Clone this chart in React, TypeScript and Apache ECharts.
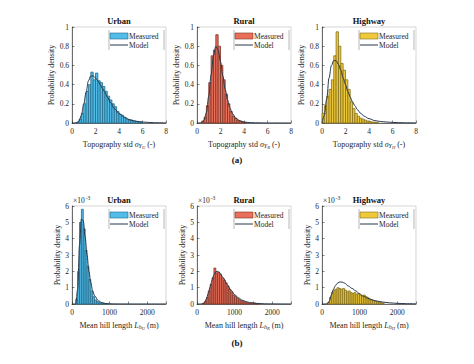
import React, { useEffect, useRef } from "react";
import * as echarts from "echarts";

// ---------- data ----------
// Top row: histogram of topography std (bin width 0.2), bin centres
const stdBinCenters = [0.1, 0.3, 0.5, 0.7, 0.9, 1.1, 1.3, 1.5, 1.7, 1.9, 2.1, 2.3, 2.5, 2.7, 2.9, 3.1, 3.3, 3.5, 3.7, 3.9, 4.1, 4.3, 4.5, 4.7, 4.9, 5.1, 5.3, 5.5, 5.7, 5.9];
const stdUrbanMeasured = [0, 0, 0.01, 0.04, 0.10, 0.20, 0.33, 0.40, 0.53, 0.45, 0.52, 0.44, 0.42, 0.38, 0.33, 0.28, 0.24, 0.20, 0.17, 0.12, 0.09, 0.08, 0.06, 0.04, 0.035, 0.03, 0.02, 0.015, 0.01, 0.008];
const stdRuralMeasured = [0, 0, 0.02, 0.06, 0.18, 0.42, 0.70, 0.76, 0.92, 0.80, 0.60, 0.45, 0.30, 0.20, 0.12, 0.07, 0.05, 0.03, 0.02, 0.01, 0.005, 0, 0, 0, 0, 0, 0, 0, 0, 0];
const stdHighwayMeasured = [0.10, 0.18, 0.28, 0.35, 0.45, 0.70, 0.95, 0.80, 0.62, 0.55, 0.45, 0.35, 0.22, 0.15, 0.10, 0.07, 0.05, 0.04, 0.03, 0.02, 0.015, 0.01, 0.008, 0.005, 0, 0, 0, 0, 0, 0];

const stdModelX = [0, 0.2, 0.4, 0.6, 0.8, 1.0, 1.2, 1.4, 1.6, 1.8, 2.0, 2.2, 2.4, 2.6, 2.8, 3.0, 3.3, 3.6, 4.0, 4.5, 5.0, 5.5, 6.0, 7.0, 8.0];
const stdUrbanModel = [0, 0, 0.003, 0.02, 0.08, 0.20, 0.32, 0.44, 0.49, 0.49, 0.47, 0.44, 0.40, 0.36, 0.32, 0.27, 0.21, 0.15, 0.10, 0.055, 0.03, 0.018, 0.01, 0.003, 0.001];
const stdRuralModel = [0, 0, 0.005, 0.03, 0.11, 0.28, 0.50, 0.70, 0.80, 0.76, 0.64, 0.49, 0.35, 0.24, 0.16, 0.10, 0.05, 0.025, 0.01, 0.004, 0.002, 0.001, 0, 0, 0];
const stdHighwayModel = [0, 0.08, 0.25, 0.47, 0.60, 0.65, 0.65, 0.61, 0.55, 0.47, 0.40, 0.33, 0.27, 0.22, 0.18, 0.14, 0.10, 0.07, 0.045, 0.025, 0.015, 0.01, 0.006, 0.002, 0.001];

// Bottom row: histogram of mean hill length (bin width 50 m), density in units of 1e-3
const lenBinCenters = [125, 175, 225, 275, 325, 375, 425, 475, 525, 575, 625, 675, 725, 775, 825, 875, 925, 975, 1025, 1075, 1125, 1175, 1225, 1275, 1325, 1375, 1425, 1475, 1525, 1575, 1625];
const lenUrbanMeasured = [0.3, 2.0, 5.0, 5.8, 4.6, 3.3, 2.3, 1.5, 0.8, 0.45, 0.25, 0.15, 0.1, 0.06, 0.04, 0.02, 0.01, 0, 0, 0, 0, 0, 0, 0, 0, 0, 0, 0, 0, 0, 0];
const lenRuralMeasured = [0, 0.05, 0.15, 0.4, 0.8, 1.2, 1.6, 2.2, 1.9, 1.95, 1.8, 1.6, 1.45, 1.3, 1.1, 0.9, 0.72, 0.55, 0.45, 0.35, 0.27, 0.2, 0.15, 0.11, 0.08, 0.06, 0.05, 0.04, 0.06, 0.02, 0.01];
const lenHighwayMeasured = [0, 0.1, 0.4, 0.7, 0.85, 0.9, 1.0, 0.95, 0.9, 0.95, 0.85, 0.75, 0.8, 0.7, 0.65, 0.7, 0.6, 0.65, 0.55, 0.5, 0.55, 0.45, 0.38, 0.3, 0.25, 0.2, 0.16, 0.13, 0.1, 0.08, 0.06];

const lenModelX = [0, 100, 150, 200, 250, 300, 350, 400, 450, 500, 550, 600, 700, 800, 900, 1000, 1100, 1200, 1300, 1400, 1600, 1800, 2000, 2250, 2500];
const lenUrbanModel = [0, 0, 0.9, 3.6, 5.2, 5.1, 4.1, 3.0, 2.0, 1.3, 0.8, 0.5, 0.2, 0.08, 0.03, 0.015, 0.008, 0.004, 0.002, 0.001, 0, 0, 0, 0, 0];
const lenRuralModel = [0, 0, 0.01, 0.08, 0.3, 0.65, 1.05, 1.45, 1.8, 1.98, 2.0, 1.92, 1.6, 1.2, 0.85, 0.58, 0.38, 0.24, 0.15, 0.09, 0.035, 0.013, 0.005, 0.002, 0];
const lenHighwayModel = [0, 0, 0.02, 0.2, 0.55, 0.88, 1.1, 1.25, 1.33, 1.35, 1.33, 1.28, 1.1, 0.95, 0.8, 0.62, 0.48, 0.37, 0.28, 0.21, 0.12, 0.07, 0.04, 0.02, 0.01];

const regions = ["Urban", "Rural", "Highway"];
const regionLetters = ["U", "R", "H"];

// ---------- styling ----------
const FONT = "'Liberation Serif', 'DejaVu Serif', serif";
const TXT = "#262626";
const MODEL_COLOR = "#27384a";
const FILLS = ["#52bde8", "#ea6f5a", "#efc93c"];
const EDGES = ["#236a8a", "#7e3326", "#85701c"];
const LEFTS = [72, 197, 322];
const PW = 94;
const TOP_ROW = { top: 27, height: 96 };
const BOT_ROW = { top: 206, height: 98 };

type Panel = {
  row: number; col: number; centers: number[]; values: number[]; binW: number;
  mx: number[]; my: number[];
};

const panels: Panel[] = [
  { row: 0, col: 0, centers: stdBinCenters, values: stdUrbanMeasured, binW: 0.2, mx: stdModelX, my: stdUrbanModel },
  { row: 0, col: 1, centers: stdBinCenters, values: stdRuralMeasured, binW: 0.2, mx: stdModelX, my: stdRuralModel },
  { row: 0, col: 2, centers: stdBinCenters, values: stdHighwayMeasured, binW: 0.2, mx: stdModelX, my: stdHighwayModel },
  { row: 1, col: 0, centers: lenBinCenters, values: lenUrbanMeasured, binW: 50, mx: lenModelX, my: lenUrbanModel },
  { row: 1, col: 1, centers: lenBinCenters, values: lenRuralMeasured, binW: 50, mx: lenModelX, my: lenRuralModel },
  { row: 1, col: 2, centers: lenBinCenters, values: lenHighwayMeasured, binW: 50, mx: lenModelX, my: lenHighwayModel },
];

const richName = {
  n: { fontFamily: FONT, fontSize: 8, color: TXT },
  i: { fontFamily: FONT, fontSize: 8, color: TXT, fontStyle: "italic" },
  s: { fontFamily: FONT, fontSize: 6, color: TXT, fontStyle: "italic", padding: [4, 0, 0, 0] },
  ss: { fontFamily: FONT, fontSize: 4.5, color: TXT, fontStyle: "italic", padding: [7, 0, 0, 0] },
};

function buildOption() {
  const grid: any[] = [];
  const xAxis: any[] = [];
  const yAxis: any[] = [];
  const series: any[] = [];
  const graphic: any[] = [];

  panels.forEach((p, i) => {
    const rowCfg = p.row === 0 ? TOP_ROW : BOT_ROW;
    const left = LEFTS[p.col];
    grid.push({
      left, top: rowCfg.top, width: PW, height: rowCfg.height,
      show: true, borderColor: "#c4c4c4", borderWidth: 0.7, backgroundColor: "transparent",
      outerBoundsMode: "none",
    });
    const letter = regionLetters[p.col];
    const xName = p.row === 0
      ? `{n|Topography std }{i|σ}{s|Y}{ss|${letter}}{n| (-)}`
      : `{n|Mean hill length }{i|L}{s|h}{ss|${letter}}{n| (m)}`;
    xAxis.push({
      gridIndex: i, type: "value",
      min: 0, max: p.row === 0 ? 8 : 2500, interval: p.row === 0 ? 2 : 500,
      axisLine: { show: true, lineStyle: { color: "#333", width: 0.7 } },
      axisTick: { show: true, inside: true, length: 2.5, lineStyle: { color: "#333", width: 0.6 } },
      axisLabel: {
        fontFamily: FONT, fontSize: 7.5, color: TXT, margin: 4,
        formatter: (v: number) => (p.row === 1 && v % 1000 !== 0 ? "" : String(v)),
      },
      splitLine: { show: false },
      name: xName, nameLocation: "middle", nameGap: 15,
      nameTextStyle: { rich: richName },
    });
    yAxis.push({
      gridIndex: i, type: "value",
      min: 0, max: p.row === 0 ? 1 : 6, interval: p.row === 0 ? 0.2 : 1,
      axisLine: { show: true, lineStyle: { color: "#333", width: 0.7 } },
      axisTick: { show: true, inside: true, length: 2.5, lineStyle: { color: "#333", width: 0.6 } },
      axisLabel: { fontFamily: FONT, fontSize: 7.5, color: TXT, margin: 3 },
      splitLine: { show: false },
      name: "Probability density", nameLocation: "middle", nameRotate: 90,
      nameGap: p.row === 0 ? 16 : 11,
      nameTextStyle: { fontFamily: FONT, fontSize: 8, color: TXT },
    });

    const w = p.binW;
    const fill = FILLS[p.col];
    const edge = EDGES[p.col];
    series.push({
      type: "custom", name: "Measured", xAxisIndex: i, yAxisIndex: i,
      data: p.centers.map((c, j) => [c, p.values[j]]).filter((d) => d[1] > 0),
      renderItem: (_params: any, api: any) => {
        const c = api.value(0);
        const v = api.value(1);
        const p0 = api.coord([c - w / 2, v]);
        const p1 = api.coord([c + w / 2, 0]);
        return {
          type: "rect",
          shape: { x: p0[0], y: p0[1], width: p1[0] - p0[0], height: p1[1] - p0[1] },
          style: { fill, stroke: edge, lineWidth: 0.8 },
        };
      },
      z: 2,
    });
    series.push({
      type: "line", name: "Model", xAxisIndex: i, yAxisIndex: i,
      data: p.mx.map((x, j) => [x, p.my[j]]),
      showSymbol: false, smooth: 0.35, smoothMonotone: "x",
      lineStyle: { color: MODEL_COLOR, width: 1 }, z: 3,
    });

    // title
    const cx = left + PW / 2;
    graphic.push({
      type: "text", x: cx, y: rowCfg.top - 6,
      style: { text: regions[p.col], font: `bold 8.5px ${FONT}`, fill: "#111", align: "center", verticalAlign: "middle" },
    });
    // legend
    const R = left + PW;
    const T = rowCfg.top;
    graphic.push(
      { type: "line", shape: { x1: R - 57, y1: T + 3, x2: R - 57, y2: T + 23 }, style: { stroke: "#999", lineWidth: 0.7 } },
      { type: "line", shape: { x1: R - 2, y1: T + 3, x2: R - 2, y2: T + 23 }, style: { stroke: "#999", lineWidth: 0.7 } },
      { type: "rect", shape: { x: R - 56, y: T + 6, width: 18, height: 6 }, style: { fill, stroke: edge, lineWidth: 0.6 } },
      { type: "text", x: R - 37, y: T + 9, style: { text: "Measured", font: `7.5px ${FONT}`, fill: TXT, align: "left", verticalAlign: "middle" } },
      { type: "line", shape: { x1: R - 56, y1: T + 18, x2: R - 38, y2: T + 18 }, style: { stroke: MODEL_COLOR, lineWidth: 1 } },
      { type: "text", x: R - 37, y: T + 18, style: { text: "Model", font: `7.5px ${FONT}`, fill: TXT, align: "left", verticalAlign: "middle" } },
    );
    if (p.row === 1) {
      graphic.push({
        type: "text", x: left + 1, y: T - 6,
        style: {
          text: "{a|×10}{b|-3}", align: "left", verticalAlign: "middle",
          rich: {
            a: { fontFamily: FONT, fontSize: 7.5, fill: TXT, color: TXT },
            b: { fontFamily: FONT, fontSize: 5.5, fill: TXT, color: TXT, padding: [0, 0, 5, 1] },
          },
        },
      });
    }
  });

  graphic.push(
    { type: "text", x: 237, y: 160, style: { text: "(a)", font: `bold 9px ${FONT}`, fill: "#111", align: "center", verticalAlign: "middle" } },
    { type: "text", x: 237, y: 343, style: { text: "(b)", font: `bold 9px ${FONT}`, fill: "#111", align: "center", verticalAlign: "middle" } },
  );

  return {
    animation: false,
    backgroundColor: "#ffffff",
    grid, xAxis, yAxis, series, graphic,
  };
}

export default function App() {
  const ref = useRef<HTMLDivElement>(null);
  useEffect(() => {
    if (!ref.current) return;
    const chart = echarts.init(ref.current, undefined, { renderer: "svg" });
    chart.setOption(buildOption() as any);
    return () => chart.dispose();
  }, []);
  return (
    <div
      ref={ref}
      style={{ position: "absolute", left: 0, top: 0, width: 474, height: 364, background: "#fff" }}
    />
  );
}
